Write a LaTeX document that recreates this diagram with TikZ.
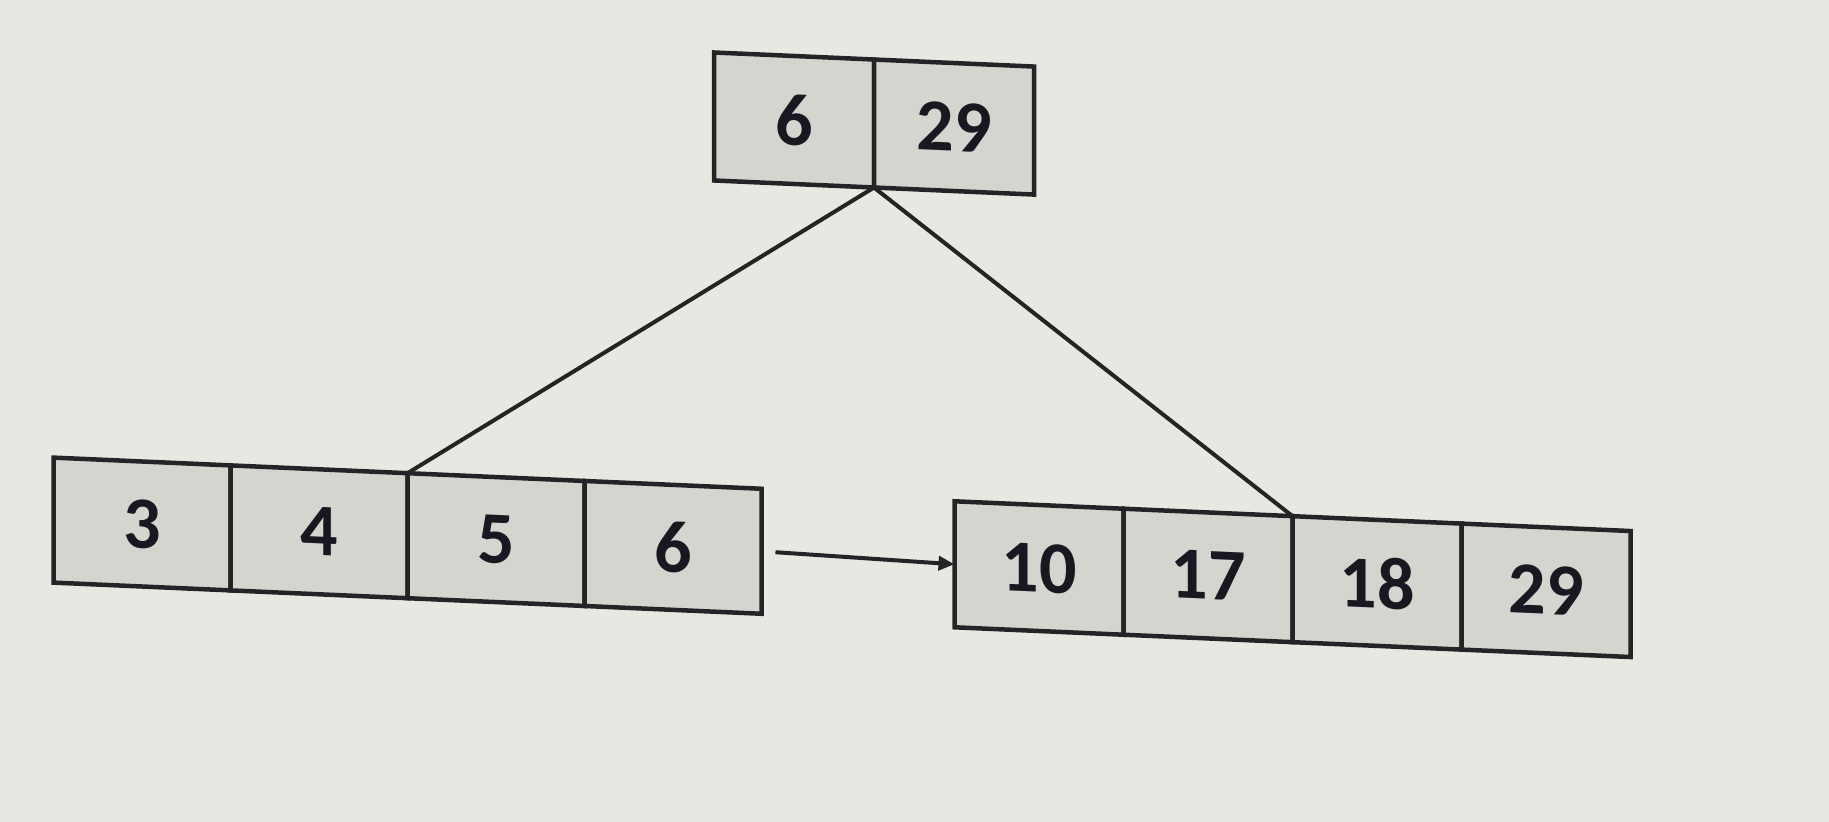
\documentclass[tikz,border=0pt]{standalone}
\usepackage{fontspec}
\setmainfont{Carlito}
\usetikzlibrary{arrows.meta}
\definecolor{bgc}{RGB}{230,233,225}
\definecolor{cellc}{RGB}{211,213,207}
\definecolor{inkc}{RGB}{36,36,38}
\definecolor{txtc}{RGB}{24,24,32}
\tikzset{
  cellbase/.style={draw=inkc, line width=4.5pt, fill=cellc, yslant=-0.044,
    inner sep=0pt, outer sep=0pt, minimum height=126pt, text=txtc,
    font=\fontsize{74}{80}\selectfont\bfseries},
  rootcell/.style={cellbase, minimum width=160pt, minimum height=128pt},
  leftcell/.style={cellbase, minimum width=177pt, minimum height=125pt},
  rightcell/.style={cellbase, minimum width=169pt, minimum height=126pt},
  link/.style={draw=inkc, line width=4pt},
}
\begin{document}
\begin{tikzpicture}[x=1pt,y=-1pt]
\fill[bgc] (0,0) rectangle (1829,822);
\useasboundingbox (0,0) rectangle (1829,822);
% root
\node[rootcell] (T1) at (794,120) {6};
\node[rootcell, anchor=west] (T2) at (T1.east) {29};
% left leaf
\node[leftcell] (L1) at (142,524) {3};
\node[leftcell, anchor=west] (L2) at (L1.east) {4};
\node[leftcell, anchor=west] (L3) at (L2.east) {5};
\node[leftcell, anchor=west] (L4) at (L3.east) {6};
% right leaf
\node[rightcell] (R1) at (1039,568) {10};
\node[rightcell, anchor=west] (R2) at (R1.east) {17};
\node[rightcell, anchor=west] (R3) at (R2.east) {18};
\node[rightcell, anchor=west] (R4) at (R3.east) {29};
% connectors
\draw[link] (T1.south east) -- (L2.north east);
\draw[link] (T1.south east) -- (R2.north east);
\draw[link, shorten <=14pt, -{Triangle[length=16pt,width=14pt]}] (L4.east) -- (R1.west);
\end{tikzpicture}
\end{document}
